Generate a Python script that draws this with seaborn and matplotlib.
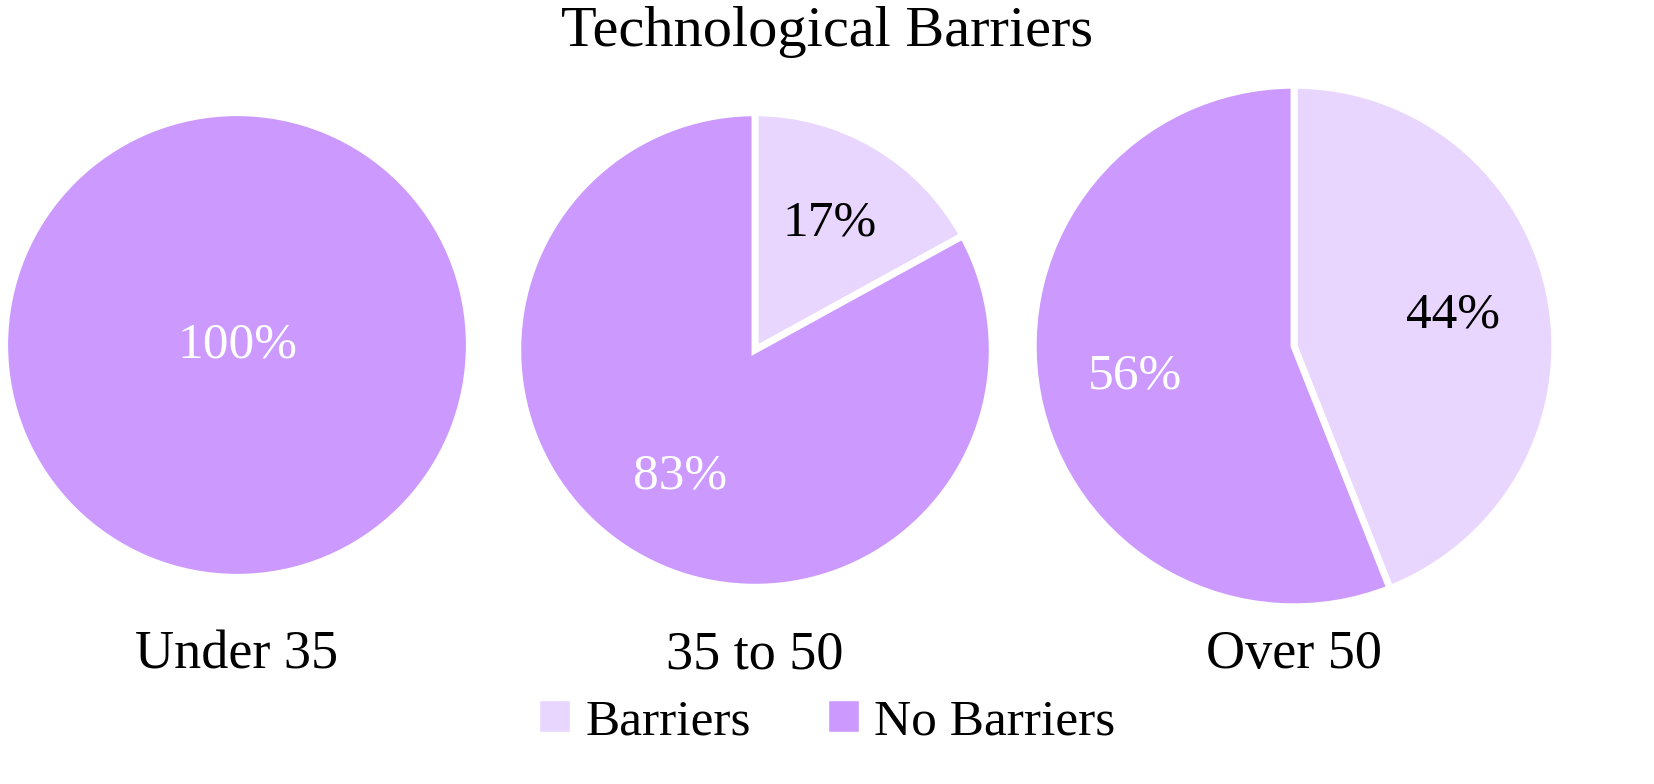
import matplotlib
matplotlib.use("Agg")
import matplotlib.pyplot as plt
import seaborn as sns
from matplotlib.patches import Patch

groups = ["Under 35", "35 to 50", "Over 50"]
series = ["Barriers", "No Barriers"]
barriers = [0, 17, 44]
no_barriers = [100, 83, 56]

sns.set_theme(style="white")
plt.rcParams["font.family"] = ["Liberation Serif", "DejaVu Serif"]
plt.rcParams["text.color"] = "black"
colors = ["#E8D6FF", "#CC99FF"]
text_colors = ["black", "white"]

fig = plt.figure(figsize=(16.54, 7.84), dpi=100)
W, H = 1654, 784
# (left, bottom, size) in pixels for each pie
boxes = [(0, 202, 474), (513, 192, 484), (1028, 172, 532)]

for name, b, nb, (l, bt, s) in zip(groups, barriers, no_barriers, boxes):
    ax = fig.add_axes([l / W, bt / H, s / W, s / H])
    vals = [b, nb]
    keep = [i for i, v in enumerate(vals) if v > 0]
    wedges, texts, autotexts = ax.pie(
        [vals[i] for i in keep],
        colors=[colors[i] for i in keep],
        startangle=90, counterclock=False, radius=1,
        autopct="%d%%", pctdistance=0.62 if b else 0.0,
        wedgeprops=dict(edgecolor="white", linewidth=5),
        textprops=dict(fontsize=37))
    for t, i in zip(autotexts, keep):
        t.set_color(text_colors[i])
    ax.set_xlim(-1.02, 1.02)
    ax.set_ylim(-1.02, 1.02)
    ax.set_aspect("equal")
    fig.text((l + s / 2) / W, 1 - 655 / H, name, ha="center", va="center", fontsize=39)

fig.text(0.5, 1 - 32 / H, "Technological Barriers", ha="center", va="center", fontsize=42)
handles = [Patch(facecolor=c, label=s) for c, s in zip(colors, series)]
fig.legend(handles=handles, loc="center", bbox_to_anchor=(0.5, 1 - 722 / H), ncol=2,
           frameon=False, fontsize=37, handlelength=0.6, handleheight=0.6,
           columnspacing=1.5, handletextpad=0.3)

fig.savefig("out.png", dpi=100, facecolor="white")
